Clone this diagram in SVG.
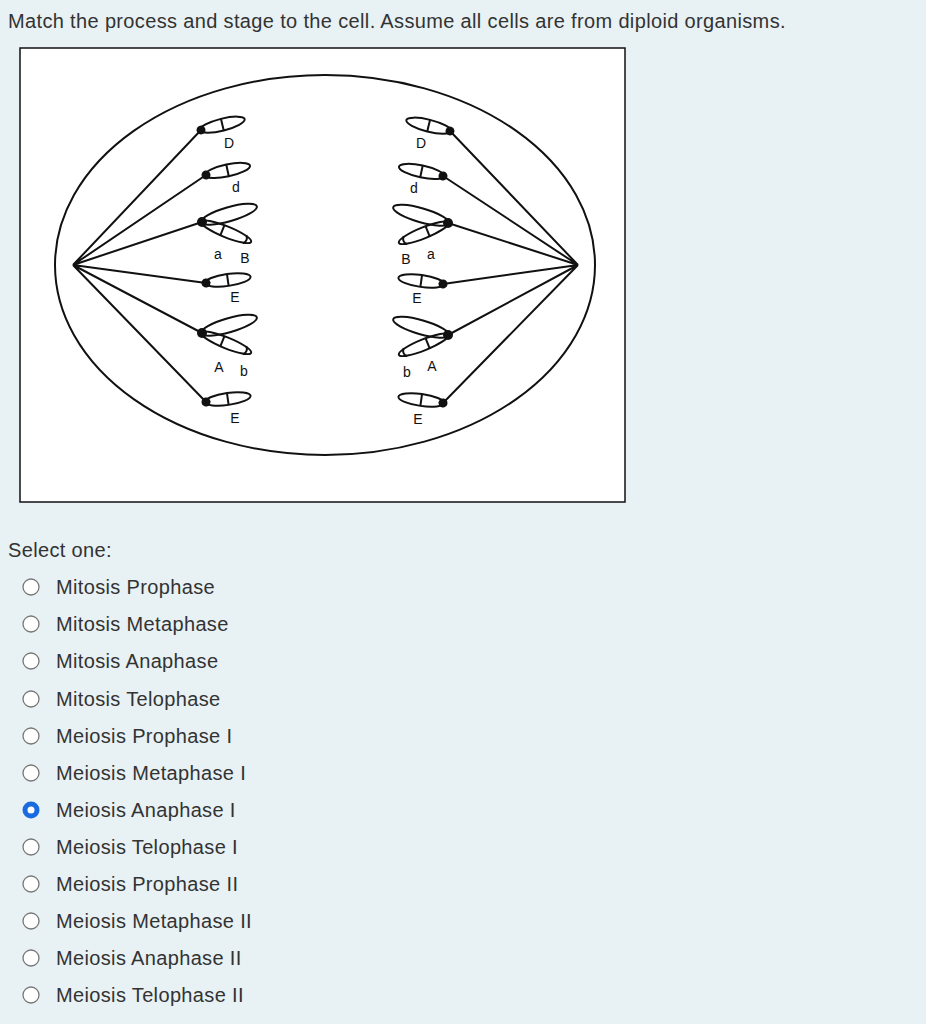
<svg xmlns="http://www.w3.org/2000/svg" xmlns:xlink="http://www.w3.org/1999/xlink" width="926" height="1024" viewBox="0 0 926 1024">
<style>
.t{font-family:"Liberation Sans",Arial,sans-serif;font-size:20px;letter-spacing:0.35px;fill:#333}
.l{font-family:"Liberation Sans",Arial,sans-serif;font-size:14px;fill:#111}
.s{fill:none;stroke:#111;stroke-width:2}
.r{fill:#fff;stroke:#777;stroke-width:1.3}
</style>
<defs>
<g id="single"><ellipse cx="22" cy="0" rx="23" ry="6" class="s"/><line x1="22" y1="-6" x2="22" y2="6" class="s"/><circle r="4.5" fill="#111"/></g>
<g id="double"><g transform="rotate(-16)"><ellipse cx="28" cy="0" rx="29" ry="7" class="s"/></g><g transform="rotate(22)"><ellipse cx="26" cy="0" rx="27" ry="5.5" class="s"/><line x1="22" y1="-5.5" x2="22" y2="5.5" class="s"/><path d="M46,-4.5 q4,4.5 0,9" class="s" stroke-width="1.5"/></g><circle r="5" fill="#111"/></g>
</defs>
<rect width="926" height="1024" fill="#e8f1f4"/>
<text x="8" y="28" class="t">Match the process and stage to the cell. Assume all cells are from diploid organisms.</text>
<rect x="20" y="48" width="605" height="454" fill="#fff" stroke="#111" stroke-width="1.5"/>
<ellipse cx="325" cy="265" rx="270" ry="190" class="s" stroke-width="1.5"/>
<g id="connectors" class="s" stroke-width="1.5">
<path d="M73,265L201,130M73,265L206,175M73,265L202,222M73,265L206,283M73,265L202,333M73,265L206,402"/>
<path d="M578,265L450,131M578,265L443,176M578,265L448,223M578,265L443,284M578,265L448,335M578,265L443,403"/>
</g>
<g id="left">
<use href="#single" transform="translate(201,130) rotate(-14)"/>
<use href="#single" transform="translate(206,175) rotate(-12)"/>
<use href="#double" transform="translate(202,222)"/>
<use href="#single" transform="translate(206,283) rotate(-8)"/>
<use href="#double" transform="translate(202,333)"/>
<use href="#single" transform="translate(206,402) rotate(-8)"/>
</g>
<g id="right">
<use href="#single" transform="translate(450,131) scale(-1,1) rotate(-14)"/>
<use href="#single" transform="translate(443,176) scale(-1,1) rotate(-12)"/>
<use href="#double" transform="translate(448,223) scale(-1,1)"/>
<use href="#single" transform="translate(443,284) scale(-1,1) rotate(-8)"/>
<use href="#double" transform="translate(448,335) scale(-1,1)"/>
<use href="#single" transform="translate(443,403) scale(-1,1) rotate(-8)"/>
</g>
<g class="l" text-anchor="middle">
<text x="229" y="148">D</text><text x="236" y="192">d</text><text x="218" y="259">a</text><text x="245" y="263">B</text><text x="235" y="302">E</text><text x="219" y="372">A</text><text x="244" y="376">b</text><text x="235" y="423">E</text>
<text x="421" y="148">D</text><text x="414" y="193">d</text><text x="406" y="264">B</text><text x="431" y="259">a</text><text x="417" y="303">E</text><text x="407" y="377">b</text><text x="432" y="371">A</text><text x="418" y="424">E</text>
</g>
<text x="8" y="557" class="t">Select one:</text>
<g id="options">
<circle cx="31" cy="587" r="8" class="r"/><text x="56" y="594" class="t">Mitosis Prophase</text>
<circle cx="31" cy="624" r="8" class="r"/><text x="56" y="631" class="t">Mitosis Metaphase</text>
<circle cx="31" cy="661" r="8" class="r"/><text x="56" y="668" class="t">Mitosis Anaphase</text>
<circle cx="31" cy="699" r="8" class="r"/><text x="56" y="706" class="t">Mitosis Telophase</text>
<circle cx="31" cy="736" r="8" class="r"/><text x="56" y="743" class="t">Meiosis Prophase I</text>
<circle cx="31" cy="773" r="8" class="r"/><text x="56" y="780" class="t">Meiosis Metaphase I</text>
<circle cx="31" cy="810" r="8.5" fill="#1a6be0"/><circle cx="31" cy="810" r="3.5" fill="#fff"/><text x="56" y="817" class="t">Meiosis Anaphase I</text>
<circle cx="31" cy="847" r="8" class="r"/><text x="56" y="854" class="t">Meiosis Telophase I</text>
<circle cx="31" cy="884" r="8" class="r"/><text x="56" y="891" class="t">Meiosis Prophase II</text>
<circle cx="31" cy="921" r="8" class="r"/><text x="56" y="928" class="t">Meiosis Metaphase II</text>
<circle cx="31" cy="958" r="8" class="r"/><text x="56" y="965" class="t">Meiosis Anaphase II</text>
<circle cx="31" cy="995" r="8" class="r"/><text x="56" y="1002" class="t">Meiosis Telophase II</text>
</g>
</svg>
